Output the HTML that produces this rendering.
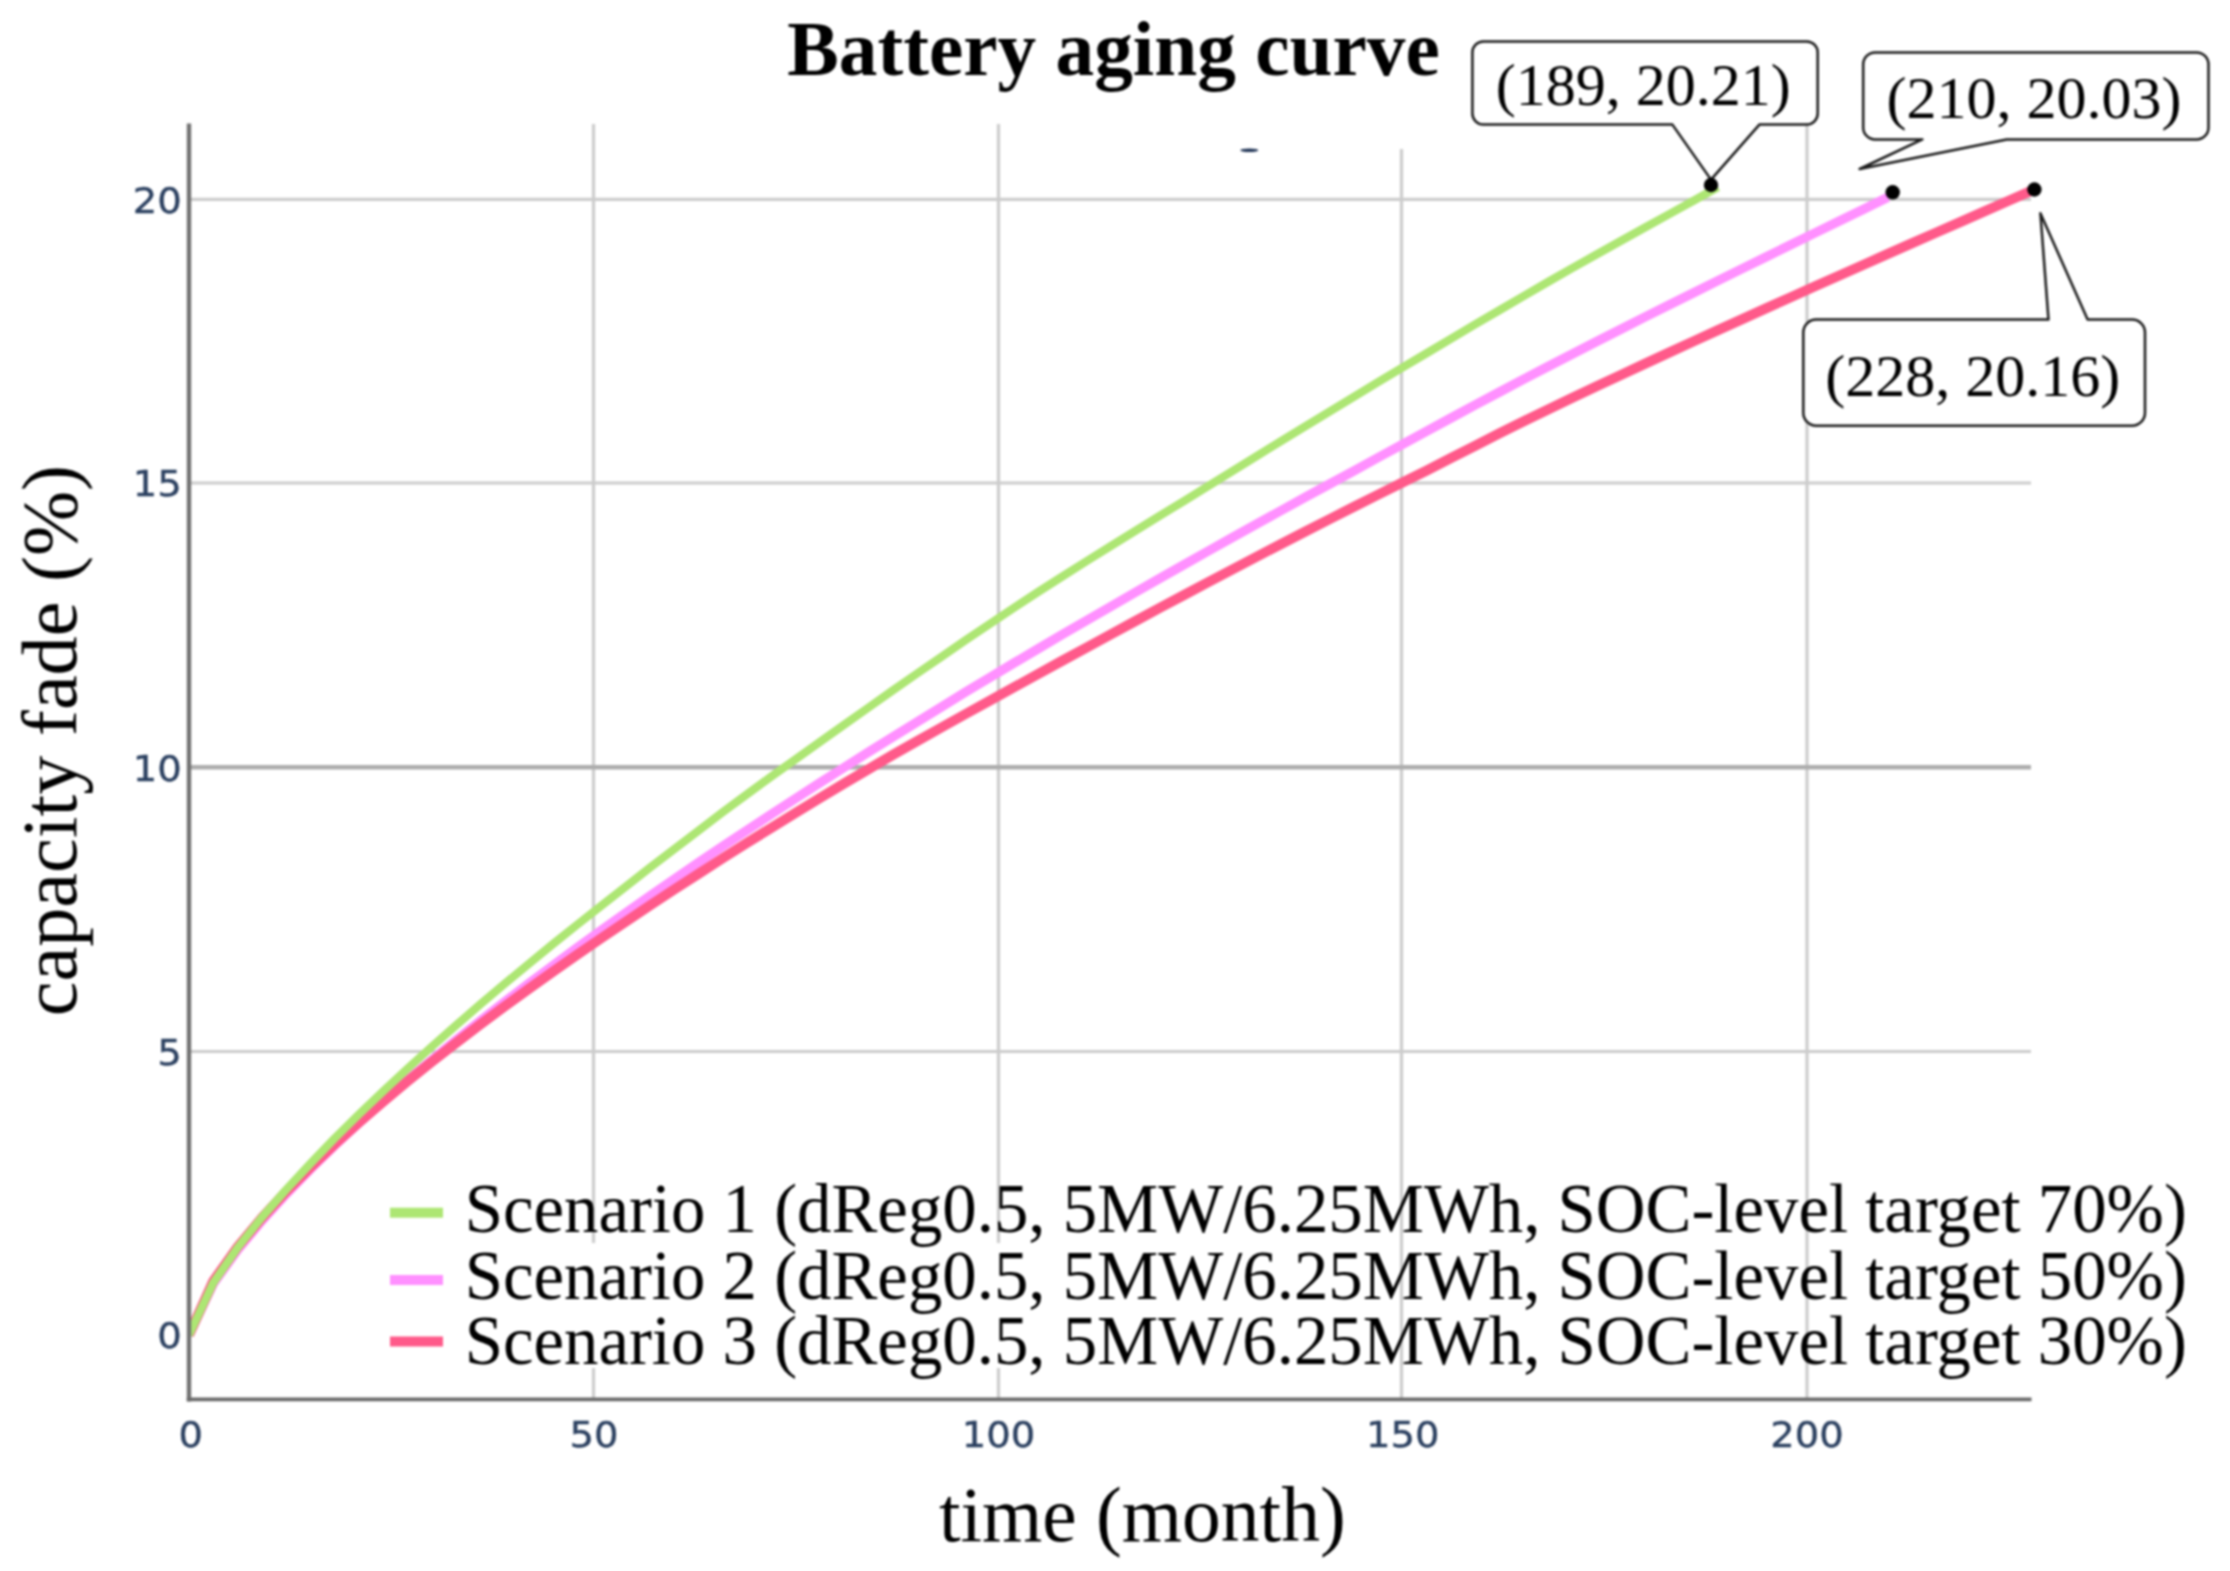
<!DOCTYPE html>
<html lang="en">
<head>
<meta charset="utf-8">
<title>Battery aging curve</title>
<style>
html,body{margin:0;padding:0;background:#fff;}
body{width:2230px;height:1571px;overflow:hidden;}
svg{display:block;filter:blur(0.9px);}
.serif{font-family:"Liberation Serif","Times New Roman",serif;fill:#000;}
.tick{font-family:"DejaVu Sans","Liberation Sans",sans-serif;font-size:36px;fill:#2a3f5f;stroke:#2a3f5f;stroke-width:0.35;}
.grid{stroke:#cccccc;stroke-width:3.2;fill:none;}
.axis{stroke:#727272;stroke-width:4.4;fill:none;}
.callout{fill:#fff;stroke:#1a1a1a;stroke-width:2.5;stroke-linejoin:round;}
.ctext{font-size:60px;}
.legend{font-size:68.8px;}
</style>
</head>
<body>
<svg width="2230" height="1571" viewBox="0 0 2230 1571">
<rect x="0" y="0" width="2230" height="1571" fill="#ffffff"/>

<!-- vertical grid lines -->
<g class="grid">
<line x1="593.5" y1="124" x2="593.5" y2="1399"/>
<line x1="998.5" y1="124" x2="998.5" y2="1399"/>
<line x1="1401.5" y1="149" x2="1401.5" y2="1399"/>
<line x1="1807" y1="124" x2="1807" y2="1399"/>
<!-- horizontal grid lines -->
<line x1="189" y1="199.3" x2="2031" y2="199.3"/>
<line x1="189" y1="483" x2="2031" y2="483"/>
<line x1="189" y1="1051.5" x2="2031" y2="1051.5"/>
</g>
<line x1="189" y1="767.3" x2="2031" y2="767.3" stroke="#adadad" stroke-width="4.5"/>

<!-- small stray tick mark above plot -->
<ellipse cx="1249.3" cy="150.2" rx="9" ry="1.7" fill="#1f3355"/>

<!-- legend white backing that hides two grid lines -->
<rect x="380" y="1243" width="830" height="125" fill="#ffffff"/>

<!-- data curves -->
<clipPath id="plotclip"><rect x="189" y="100" width="1900" height="1299"/></clipPath>
<g clip-path="url(#plotclip)" fill="none" stroke-linejoin="round" stroke-linecap="butt">
<path d="M189.0,1335.0 L213.3,1283.8 L237.5,1250.0 L261.8,1220.8 L286.1,1194.1 L310.4,1169.2 L334.6,1145.6 L358.9,1123.0 L383.2,1101.3 L407.4,1080.4 L431.7,1060.0 L456.0,1040.2 L480.2,1020.9 L504.5,1002.0 L528.8,983.5 L553.0,965.4 L577.3,947.5 L601.6,930.0 L625.9,912.8 L650.1,895.8 L674.4,879.0 L698.7,862.5 L722.9,846.2 L747.2,830.1 L771.5,814.1 L795.8,798.4 L820.0,782.8 L844.3,767.4 L868.6,752.1 L892.8,736.9 L917.1,721.9 L941.4,706.9 L965.6,692.1 L989.9,677.5 L1014.2,662.9 L1038.4,648.6 L1062.7,634.3 L1087.0,620.2 L1111.3,606.2 L1135.5,592.2 L1159.8,578.4 L1184.1,564.6 L1208.3,551.0 L1232.6,537.4 L1256.9,523.9 L1281.2,510.5 L1305.4,497.2 L1329.7,484.0 L1354.0,470.8 L1378.2,457.5 L1402.5,444.3 L1426.8,431.1 L1451.0,418.0 L1475.3,404.9 L1499.6,392.0 L1523.8,379.2 L1548.1,366.5 L1572.4,354.0 L1596.7,341.5 L1620.9,329.2 L1645.2,316.9 L1669.5,304.8 L1693.7,292.7 L1718.0,280.6 L1742.3,268.6 L1766.5,256.7 L1790.8,244.8 L1815.1,232.9 L1839.4,221.0 L1863.6,209.2 L1887.9,197.3" stroke="#ff90ff" stroke-width="9.4"/>
<path d="M189.0,1335.0 L213.3,1281.1 L237.5,1247.1 L261.8,1218.0 L286.1,1191.7 L310.4,1167.4 L334.6,1144.4 L358.9,1122.6 L383.2,1101.6 L407.4,1081.4 L431.7,1061.9 L456.0,1043.0 L480.2,1024.5 L504.5,1006.5 L528.8,988.9 L553.0,971.6 L577.3,954.7 L601.6,938.0 L625.9,921.6 L650.1,905.4 L674.4,889.4 L698.7,873.7 L722.9,858.1 L747.2,842.8 L771.5,827.7 L795.8,812.7 L820.0,798.0 L844.3,783.4 L868.6,769.1 L892.8,754.9 L917.1,741.1 L941.4,727.5 L965.6,714.0 L989.9,700.6 L1014.2,687.2 L1038.4,673.9 L1062.7,660.5 L1087.0,647.3 L1111.3,634.1 L1135.5,621.0 L1159.8,607.9 L1184.1,595.0 L1208.3,582.1 L1232.6,569.3 L1256.9,556.6 L1281.2,544.0 L1305.4,531.5 L1329.7,519.1 L1354.0,506.8 L1378.2,494.6 L1402.5,482.5 L1426.8,470.4 L1451.0,458.0 L1475.3,445.7 L1499.6,433.3 L1523.8,421.2 L1548.1,409.4 L1572.4,397.8 L1596.7,386.3 L1620.9,374.9 L1645.2,363.6 L1669.5,352.4 L1693.7,341.2 L1718.0,330.1 L1742.3,319.1 L1766.5,308.1 L1790.8,297.2 L1815.1,286.3 L1839.4,275.5 L1863.6,264.7 L1887.9,253.9 L1912.2,243.2 L1936.4,232.5 L1960.7,221.8 L1985.0,211.2 L2009.2,200.5 L2033.5,189.9" stroke="#ff5a8a" stroke-width="10"/>
<path d="M189.0,1335.0 L213.3,1282.8 L237.5,1247.8 L261.8,1217.5 L286.1,1189.8 L310.4,1163.6 L334.6,1138.4 L358.9,1114.4 L383.2,1091.2 L407.4,1068.7 L431.7,1046.8 L456.0,1025.4 L480.2,1004.4 L504.5,983.9 L528.8,963.8 L553.0,944.0 L577.3,924.6 L601.6,905.5 L625.9,886.5 L650.1,867.6 L674.4,848.9 L698.7,830.4 L722.9,812.1 L747.2,794.1 L771.5,776.4 L795.8,759.1 L820.0,741.8 L844.3,724.6 L868.6,707.5 L892.8,690.4 L917.1,673.5 L941.4,656.8 L965.6,640.2 L989.9,623.8 L1014.2,607.7 L1038.4,591.8 L1062.7,576.2 L1087.0,560.9 L1111.3,545.8 L1135.5,530.8 L1159.8,515.8 L1184.1,500.9 L1208.3,485.9 L1232.6,470.9 L1256.9,455.9 L1281.2,441.0 L1305.4,426.2 L1329.7,411.4 L1354.0,396.7 L1378.2,382.1 L1402.5,367.5 L1426.8,353.1 L1451.0,338.7 L1475.3,324.3 L1499.6,310.1 L1523.8,296.0 L1548.1,281.9 L1572.4,268.0 L1596.7,254.4 L1620.9,240.9 L1645.2,227.4 L1669.5,214.0 L1693.7,200.6 L1718.0,187.1" stroke="#ade673" stroke-width="8.2"/>
</g>

<!-- axes -->
<line class="axis" x1="189" y1="123.5" x2="189" y2="1401.5"/>
<line class="axis" x1="186.8" y1="1399.3" x2="2031.5" y2="1399.3" style="stroke-width:3.8;stroke:#6a6a6a"/>

<!-- y tick labels -->
<g class="tick" text-anchor="end">
<text transform="translate(181.8,212.5) scale(1.07,1)">20</text>
<text transform="translate(181.8,496.2) scale(1.07,1)">15</text>
<text transform="translate(181.8,780.5) scale(1.07,1)">10</text>
<text transform="translate(181.8,1064.7) scale(1.07,1)">5</text>
<text transform="translate(181.8,1348.2) scale(1.07,1)">0</text>
</g>
<!-- x tick labels -->
<g class="tick" text-anchor="middle">
<text transform="translate(190.8,1446.8) scale(1.07,1)">0</text>
<text transform="translate(594.0,1446.8) scale(1.07,1)">50</text>
<text transform="translate(998.5,1446.8) scale(1.07,1)">100</text>
<text transform="translate(1402.8,1446.8) scale(1.07,1)">150</text>
<text transform="translate(1807.0,1446.8) scale(1.07,1)">200</text>
</g>

<!-- title -->
<text class="serif" x="1113.5" y="75" text-anchor="middle" font-size="77.3" font-weight="bold">Battery aging curve</text>
<!-- axis titles -->
<text class="serif" x="1142.3" y="1540.6" text-anchor="middle" font-size="77.5">time (month)</text>
<text class="serif" transform="translate(76,740.5) rotate(-90)" text-anchor="middle" font-size="78.2">capacity fade (%)</text>

<!-- legend -->
<g>
<rect x="390" y="1207.7" width="53" height="10" fill="#ade673"/>
<rect x="390" y="1275" width="53" height="10" fill="#ff90ff"/>
<rect x="390" y="1336.5" width="53" height="10" fill="#ff5a8a"/>
<g class="serif legend">
<text x="464.7" y="1231.5">Scenario 1 (dReg0.5, 5MW/6.25MWh, SOC-level target 70%)</text>
<text x="464.7" y="1298.7">Scenario 2 (dReg0.5, 5MW/6.25MWh, SOC-level target 50%)</text>
<text x="464.7" y="1363.5">Scenario 3 (dReg0.5, 5MW/6.25MWh, SOC-level target 30%)</text>
</g>
</g>

<!-- callout 1 -->
<path class="callout" d="M1483.4,41.5 H1806.7 A11,11 0 0 1 1817.7,52.5 V113.6 A11,11 0 0 1 1806.7,124.6 H1759.4 L1711,179.6 L1672.4,124.6 H1483.4 A11,11 0 0 1 1472.4,113.6 V52.5 A11,11 0 0 1 1483.4,41.5 Z"/>
<text class="serif ctext" x="1643.3" y="105.1" text-anchor="middle">(189, 20.21)</text>
<!-- callout 2 -->
<path class="callout" d="M1875.2,52.4 H2196.5 A12,12 0 0 1 2208.5,64.4 V127.4 A12,12 0 0 1 2196.5,139.4 H2006.7 L1859.6,169 L1922.4,139.4 H1875.2 A12,12 0 0 1 1863.2,127.4 V64.4 A12,12 0 0 1 1875.2,52.4 Z"/>
<text class="serif ctext" x="2034" y="117.9" text-anchor="middle">(210, 20.03)</text>
<!-- callout 3 -->
<path class="callout" d="M1816.3,319.6 H2048.5 L2040.4,213.2 L2087.6,319.6 H2132 A13,13 0 0 1 2145,332.6 V412.7 A13,13 0 0 1 2132,425.7 H1816.3 A13,13 0 0 1 1803.3,412.7 V332.6 A13,13 0 0 1 1816.3,319.6 Z"/>
<text class="serif ctext" x="1972.8" y="396.1" text-anchor="middle">(228, 20.16)</text>

<!-- end-point markers -->
<circle cx="1711" cy="185" r="7.2" fill="#000"/>
<circle cx="1892.7" cy="192.3" r="7.2" fill="#000"/>
<circle cx="2034.4" cy="189.5" r="7.2" fill="#000"/>
</svg>
</body>
</html>
